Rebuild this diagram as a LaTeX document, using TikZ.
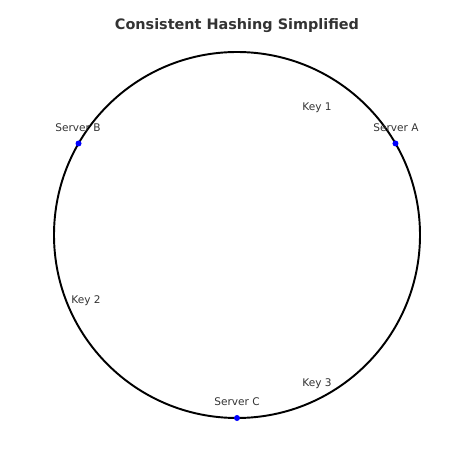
\documentclass[tikz,border=0pt]{standalone}
\usepackage{fontspec}
\setmainfont{DejaVu Sans}
\definecolor{txtgray}{HTML}{333333}
\tikzset{
    server/.style={fill=blue, draw=none},
    lbl/.style={text=txtgray, font=\fontsize{6}{7}\selectfont, inner sep=0pt}
}
\begin{document}
\begin{tikzpicture}
    \useasboundingbox (-4.74,-4.72) rectangle (4.74,4.70);
    \node[lbl, font=\bfseries\fontsize{8.2}{10}\selectfont] (title) at (0,4.19) {Consistent Hashing Simplified};
    \draw[line width=1.1pt] (0,0) circle (3.66cm);

    % servers on the ring
    \coordinate (A) at (30:3.66); \fill[server] (A) circle (0.06);
    \coordinate (B) at (150:3.66); \fill[server] (B) circle (0.06);
    \coordinate (C) at (270:3.66); \fill[server] (C) circle (0.06);
    \node[lbl] (labA) at (3.18,2.14) {Server A};
    \node[lbl] (labB) at (-3.18,2.14) {Server B};
    \node[lbl] (labC) at (0,-3.34) {Server C};

    % keys
    \node[lbl] (k1) at (1.6,2.54) {Key 1};
    \node[lbl] (k2) at (-3.02,-1.32) {Key 2};
    \node[lbl] (k3) at (1.6,-2.98) {Key 3};
\end{tikzpicture}
\end{document}
